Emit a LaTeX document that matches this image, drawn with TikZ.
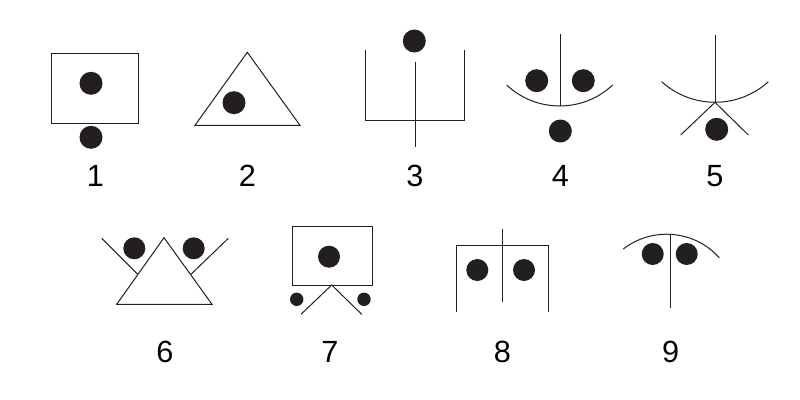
\documentclass[tikz,border=0pt]{standalone}
\usepackage{fontspec}
\setmainfont{Liberation Sans}
\usepackage{tikz}
\usetikzlibrary{arrows.meta}

\tikzset{
  thin line/.style={line width=0.75pt, draw={rgb, 255:red, 35; green, 31; blue, 32 }},
  blob/.style={fill={rgb, 255:red, 35; green, 31; blue, 32 }},
  figlabel/.style={font=\fontsize{23}{23}\selectfont, inner sep=0pt}
}

\begin{document}
\begin{tikzpicture}[x=0.75pt,y=0.75pt,yscale=-1,xscale=1]
    \useasboundingbox (0,0) rectangle (800,400); %set diagram 800 wide, 400 high

    %Shape: Rectangle [fig 1]
    \draw [thin line]  (51.3,53.3) -- (138.7,53.3) -- (138.7,123.3) -- (51.3,123.3) -- cycle ;
    \fill [blob] (91,83.3) circle (11.5) ;
    \fill [blob] (91,137.3) circle (11.5) ;

    %Shape: Triangle [fig 2]
    \draw [thin line]  (247.3,52.3) -- (300,125.3) -- (195,125.3) -- cycle ;
    \fill [blob] (234,102.7) circle (11.5) ;

    %Straight Lines [fig 3]
    \draw [thin line]  (365.3,50) -- (365.3,120) -- (464.3,120) -- (464.3,50) ;
    \draw [thin line]  (415,61.7) -- (415,146.7) ;
    \fill [blob] (414.3,41) circle (11.5) ;

    %Curve Lines [fig 4]
    \draw [thin line]  (506.7,85) arc [start angle=133.2, end angle=46.8, radius=77.4] ;
    \draw [thin line]  (560.7,34.3) -- (560.7,106) ;
    \fill [blob] (536.7,80.7) circle (11.5) ;
    \fill [blob] (583.3,80.7) circle (11.5) ;
    \fill [blob] (560.3,131) circle (11.5) ;

    %Curve Lines [fig 5]
    \draw [thin line]  (661.7,81.7) arc [start angle=132.2, end angle=47.8, radius=79.4] ;
    \draw [thin line]  (715,35) -- (715,102.3) ;
    \draw [thin line]  (680.7,135) -- (715,102.3) -- (748.3,135) ;
    \fill [blob] (716.7,129.3) circle (11.5) ;

    %Shape: Triangle [fig 6]
    \draw [thin line]  (164,237.7) -- (212,304.3) -- (116.7,304.3) -- cycle ;
    \draw [thin line]  (101.7,238.3) -- (137.7,274.3) ;
    \draw [thin line]  (228.3,238.3) -- (191,274.3) ;
    \fill [blob] (134.3,248.3) circle (11) ;
    \fill [blob] (193.7,248.3) circle (11) ;

    %Shape: Rectangle [fig 7]
    \draw [thin line]  (292.3,226.7) -- (372.3,226.7) -- (372.3,285) -- (292.3,285) -- cycle ;
    \draw [thin line]  (301,314.3) -- (331.7,285) -- (361.7,314.3) ;
    \fill [blob] (329,256.7) circle (11) ;
    \fill [blob] (296.7,299.3) circle (6.7) ;
    \fill [blob] (364,299.3) circle (6.7) ;

    %Straight Lines [fig 8]
    \draw [thin line]  (456,312.3) -- (456,245) -- (548.3,245) -- (548.3,312.3) ;
    \draw [thin line]  (502.3,229.3) -- (502.3,301.7) ;
    \fill [blob] (477.3,270) circle (11) ;
    \fill [blob] (524,270) circle (11) ;

    %Curve Lines [fig 9]
    \draw [thin line]  (623.3,249) arc [start angle=-127.7, end angle=-41.9, radius=70.8] ;
    \draw [thin line]  (670,234.3) -- (670,308.3) ;
    \fill [blob] (652.7,254) circle (11) ;
    \fill [blob] (686.7,254) circle (11) ;

    % Text Nodes
    \node [figlabel] (lab1) at (95.5,176) {1};
    \node [figlabel] (lab2) at (247.3,176) {2};
    \node [figlabel] (lab3) at (415,176) {3};
    \node [figlabel] (lab4) at (560.5,176) {4};
    \node [figlabel] (lab5) at (715,176) {5};
    \node [figlabel] (lab6) at (165,351.5) {6};
    \node [figlabel] (lab7) at (330,351.5) {7};
    \node [figlabel] (lab8) at (502.3,351.5) {8};
    \node [figlabel] (lab9) at (670.7,351.5) {9};

\end{tikzpicture}
\end{document}
